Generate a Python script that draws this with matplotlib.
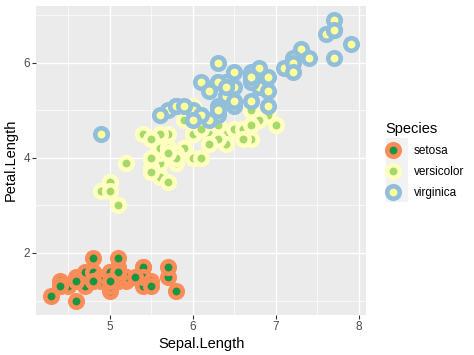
import numpy as np
import matplotlib.pyplot as plt
from matplotlib.lines import Line2D
from matplotlib.patches import Rectangle

plt.rcParams['font.family'] = ['Liberation Sans', 'DejaVu Sans']

species = ['setosa', 'versicolor', 'virginica']

setosa_sepal = [5.1, 4.9, 4.7, 4.6, 5.0, 5.4, 4.6, 5.0, 4.4, 4.9, 5.4, 4.8, 4.8, 4.3, 5.8, 5.7, 5.4,
                5.1, 5.7, 5.1, 5.4, 5.1, 4.6, 5.1, 4.8, 5.0, 5.0, 5.2, 5.2, 4.7, 4.8, 5.4, 5.2, 5.5,
                4.9, 5.0, 5.5, 4.9, 4.4, 5.1, 5.0, 4.5, 4.4, 5.0, 5.1, 4.8, 5.1, 4.6, 5.3, 5.0]
setosa_petal = [1.4, 1.4, 1.3, 1.5, 1.4, 1.7, 1.4, 1.5, 1.4, 1.5, 1.5, 1.6, 1.4, 1.1, 1.2, 1.5, 1.3,
                1.4, 1.7, 1.5, 1.7, 1.5, 1.0, 1.7, 1.9, 1.6, 1.6, 1.5, 1.4, 1.6, 1.6, 1.5, 1.5, 1.4,
                1.5, 1.2, 1.3, 1.4, 1.3, 1.5, 1.3, 1.3, 1.3, 1.6, 1.9, 1.4, 1.6, 1.4, 1.5, 1.4]

versicolor_sepal = [7.0, 6.4, 6.9, 5.5, 6.5, 5.7, 6.3, 4.9, 6.6, 5.2, 5.0, 5.9, 6.0, 6.1, 5.6, 6.7, 5.6,
                    5.8, 6.2, 5.6, 5.9, 6.1, 6.3, 6.1, 6.4, 6.6, 6.8, 6.7, 6.0, 5.7, 5.5, 5.5, 5.8, 6.0,
                    5.4, 6.0, 6.7, 6.3, 5.6, 5.5, 5.5, 6.1, 5.8, 5.0, 5.6, 5.7, 5.7, 6.2, 5.1, 5.7]
versicolor_petal = [4.7, 4.5, 4.9, 4.0, 4.6, 4.5, 4.7, 3.3, 4.6, 3.9, 3.5, 4.2, 4.0, 4.7, 3.6, 4.4, 4.5,
                    4.1, 4.5, 3.9, 4.8, 4.0, 4.9, 4.7, 4.3, 4.4, 4.8, 5.0, 4.5, 3.5, 3.8, 3.7, 3.9, 5.1,
                    4.5, 4.5, 4.7, 4.4, 4.1, 4.0, 4.4, 4.6, 4.0, 3.3, 4.2, 4.2, 4.2, 4.3, 3.0, 4.1]

virginica_sepal = [6.3, 5.8, 7.1, 6.3, 6.5, 7.6, 4.9, 7.3, 6.7, 7.2, 6.5, 6.4, 6.8, 5.7, 5.8, 6.4, 6.5,
                   7.7, 7.7, 6.0, 6.9, 5.6, 7.7, 6.3, 6.7, 7.2, 6.2, 6.1, 6.4, 7.2, 7.4, 7.9, 6.4, 6.3,
                   6.1, 7.7, 6.3, 6.4, 6.0, 6.9, 6.7, 6.9, 5.8, 6.8, 6.7, 6.7, 6.3, 6.5, 6.2, 5.9]
virginica_petal = [6.0, 5.1, 5.9, 5.6, 5.8, 6.6, 4.5, 6.3, 5.8, 6.1, 5.1, 5.3, 5.5, 5.0, 5.1, 5.3, 5.5,
                   6.7, 6.9, 5.0, 5.7, 4.9, 6.7, 4.9, 5.7, 6.0, 4.8, 4.9, 5.6, 5.8, 6.1, 6.4, 5.6, 5.1,
                   5.6, 6.1, 5.6, 5.5, 4.8, 5.4, 5.6, 5.1, 5.1, 5.9, 5.7, 5.2, 5.0, 5.2, 5.4, 5.1]

edge_colors = ['#FC8D59', '#FFFFBF', '#91BFDB']
fill_colors = ['#1A9641', '#A6D96A', '#FFFF99']

xs = [setosa_sepal, versicolor_sepal, virginica_sepal]
ys = [setosa_petal, versicolor_petal, virginica_petal]

fig = plt.figure(figsize=(4.74, 3.55), dpi=100)
ax = fig.add_axes([0.077, 0.114, 0.6945, 0.869])
ax.set_facecolor('#EBEBEB')

for x, y, ec, fc in zip(xs, ys, edge_colors, fill_colors):
    ax.scatter(x, y, s=81, c=fc, edgecolors=ec, linewidths=3.3, zorder=3)

ax.set_xlim(4.12, 8.08)
ax.set_ylim(0.705, 7.195)
ax.set_xticks([5, 6, 7, 8])
ax.set_yticks([2, 4, 6])
ax.set_xticks([4.5, 5.5, 6.5, 7.5], minor=True)
ax.set_yticks([1, 3, 5, 7], minor=True)
ax.grid(True, which='major', color='white', linewidth=1.0, zorder=0)
ax.grid(True, which='minor', color='white', linewidth=0.5, zorder=0)
ax.set_axisbelow(True)
for sp in ax.spines.values():
    sp.set_visible(False)
ax.tick_params(which='major', length=2.7, width=0.8, color='#333333',
               labelsize=8.5, labelcolor='#4D4D4D', pad=2)
ax.tick_params(which='minor', length=0)
ax.set_xlabel('Sepal.Length', fontsize=10.5, labelpad=3)
ax.set_ylabel('Petal.Length', fontsize=10.5, labelpad=4)

# legend key backgrounds
for i in range(3):
    fig.add_artist(Rectangle((386 / 474, 1 - (138 + 21.3 * (i + 1)) / 355), 21.5 / 474, 21.3 / 355,
                             transform=fig.transFigure, facecolor='#F2F2F2',
                             edgecolor='none', zorder=0))

handles = [Line2D([], [], marker='o', linestyle='none', markersize=9,
                  markerfacecolor=fc, markeredgecolor=ec, markeredgewidth=3.3)
           for ec, fc in zip(edge_colors, fill_colors)]
leg = fig.legend(handles, species, title='Species', loc='upper left',
                 bbox_to_anchor=(376 / 474, 1 - 113 / 355), frameon=False,
                 fontsize=8.5, title_fontsize=10.5, handlelength=1.2,
                 handletextpad=1.2, labelspacing=0.75, borderpad=0.3)
leg._legend_box.align = 'left'
leg.set_zorder(5)

fig.savefig('out.png', dpi=100)
